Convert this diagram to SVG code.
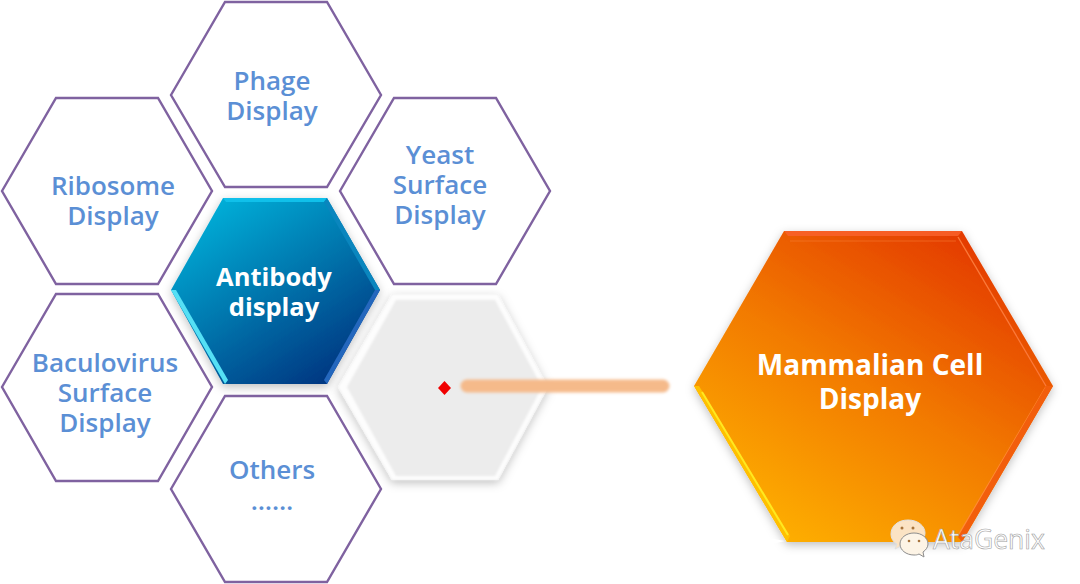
<svg xmlns="http://www.w3.org/2000/svg" width="1080" height="584" viewBox="0 0 1080 584">
<style>
.o{fill:#fff;stroke:#7f62a0;stroke-width:2.4;stroke-linejoin:miter}
.t{font-family:"Open Sans","Noto Sans",sans-serif;font-weight:600;font-size:26px;fill:#5b8fd5;text-anchor:middle}
.w{font-family:"Open Sans","Noto Sans",sans-serif;font-weight:700;fill:#fff;text-anchor:middle}
</style>
<defs>
<linearGradient id="blue" x1="0.15" y1="0" x2="0.85" y2="1"><stop offset="0" stop-color="#00b4dc"/><stop offset="0.5" stop-color="#0073ab"/><stop offset="1" stop-color="#002f7c"/></linearGradient>
<linearGradient id="orange" x1="0.15" y1="1" x2="0.85" y2="0"><stop offset="0" stop-color="#ffb400"/><stop offset="0.5" stop-color="#f27a00"/><stop offset="1" stop-color="#e23300"/></linearGradient>
<filter id="sh" x="-15%" y="-15%" width="130%" height="135%"><feDropShadow dx="0" dy="3" stdDeviation="5" flood-color="#000" flood-opacity="0.25"/></filter>
<filter id="blur" filterUnits="userSpaceOnUse" x="440" y="360" width="250" height="50"><feGaussianBlur stdDeviation="1.5"/></filter>
<filter id="bl2" x="-50%" y="-50%" width="200%" height="200%"><feGaussianBlur stdDeviation="0.7"/></filter>
<filter id="bl3" x="-10%" y="-10%" width="120%" height="120%"><feGaussianBlur stdDeviation="0.8"/></filter>
</defs>

<g id="node-phage"><polygon class="o" points="171,95 225,2 327,2 381,95 327,187 225,187"/><text class="t" x="272" y="90">Phage</text><text class="t" x="272" y="120">Display</text></g>
<g id="node-ribosome"><polygon class="o" points="2,191 56,98 158,98 212,191 158,284 56,284"/><text class="t" x="113" y="195">Ribosome</text><text class="t" x="113" y="225">Display</text></g>
<g id="node-yeast"><polygon class="o" points="340,191 394,98 496,98 550,191 496,284 394,284"/><text class="t" x="440" y="164">Yeast</text><text class="t" x="440" y="194">Surface</text><text class="t" x="440" y="224">Display</text></g>
<g id="node-baculovirus"><polygon class="o" points="2,387 56,294 158,294 212,387 158,481 56,481"/><text class="t" x="105" y="372">Baculovirus</text><text class="t" x="105" y="402">Surface</text><text class="t" x="105" y="432">Display</text></g>
<g id="node-others"><polygon class="o" points="171,489 225,396 327,396 381,489 327,582 225,582"/><text class="t" x="272" y="479">Others</text><text class="t" x="272" y="510">……</text></g>

<g id="node-antibody">
<polygon points="171,290 223,198 327,198 380,290 327,384 223,384" fill="url(#blue)" filter="url(#sh)"/>
<polygon points="223,198 327,198 324,202 226,202" fill="#10c0ea"/>
<polygon points="327,198 380,290 375,290 324,202" fill="#0a86be"/>
<polygon points="171,290 176,290 228,380 225,384" fill="#55e0f5"/>
<polygon points="380,290 327,384 324,380 375,290" fill="#2467bd"/>
<text class="w" font-size="25.500" x="274" y="286">Antibody</text><text class="w" font-size="25.500" x="274" y="316">display</text>
</g>

<g id="node-gray">
<polygon points="338,387 392,294 498,294 548,387 498,480 392,480" fill="#ececec" filter="url(#sh)"/>
<polygon points="338,387 392,294 498,294 548,387 498,480 392,480 338,387 347,387 396,476 495,476 542,387 495,300 396,300 347,387" fill="#fdfdfd" fill-rule="evenodd" filter="url(#bl3)"/>
<polygon points="444.500,381 451,388 444.500,395 438,388" fill="#f00000"/>
</g>

<g id="connectors">
<line x1="467" y1="386" x2="663" y2="386" stroke="#f5ba8a" stroke-width="13" stroke-linecap="round" filter="url(#blur)"/>
</g>

<g id="node-mammalian">
<polygon points="694,386 784,231 962,231 1053,386 962,542 787,542" fill="url(#orange)" filter="url(#sh)"/>
<polygon points="784,231 962,231 958,236 788,236" fill="#f9622a" fill-opacity="0.85"/>
<line x1="790" y1="241" x2="956" y2="241" stroke="#f98a3a" stroke-width="0.800" stroke-opacity="0.6"/>
<line x1="958" y1="237" x2="1046" y2="386" stroke="#fb7a3a" stroke-width="1.300"/>
<polygon points="694,386 699,386 790,536 787,542" fill="#ffc000"/>
<line x1="702" y1="392" x2="788" y2="535" stroke="#ffe820" stroke-width="2"/>
<line x1="1046" y1="387" x2="958" y2="536" stroke="#ff8c35" stroke-width="1.600"/>
<polygon points="1053,386 962,542 958,537 1046,386" fill="#f25e0c"/>
<polygon points="763,537 785,541 772,544" fill="#fff" filter="url(#bl2)"/>
<text class="w" font-size="28" x="870" y="375">Mammalian Cell</text><text class="w" font-size="28" x="870" y="409">Display</text>
</g>

<g id="watermark">
<path d="M908,520c-10,0-17,6-17,14c0,4,2,8,6,10l-2,5l6,-3c2,1,5,1,7,1c9,0 17,-6 17,-14c0,-7-7,-13-17,-13z" fill="#fbe3c4" stroke="#e0e0e0" stroke-width="1"/>
<path d="M914,533c-8,0-14,5-14,11s6,11,14,11c2,0,3,0,5,-1l5,3l-1,-5c3,-2,5,-5,5,-8c0,-6-6,-11-14,-11z" fill="#fdf4e6" stroke="#8d8d8d" stroke-width="1"/>
<circle cx="902" cy="528" r="1.500" fill="#a8743c"/><circle cx="913" cy="528" r="1.500" fill="#a8743c"/>
<circle cx="909" cy="541" r="1.300" fill="#a8743c"/><circle cx="919" cy="541" r="1.300" fill="#a8743c"/>
<text x="933" y="549" font-family="'Open Sans','Noto Sans',sans-serif" font-size="26.500" fill="#fff" stroke="#a0a0a0" stroke-width="0.6">AtaGenix</text>
</g>
</svg>
